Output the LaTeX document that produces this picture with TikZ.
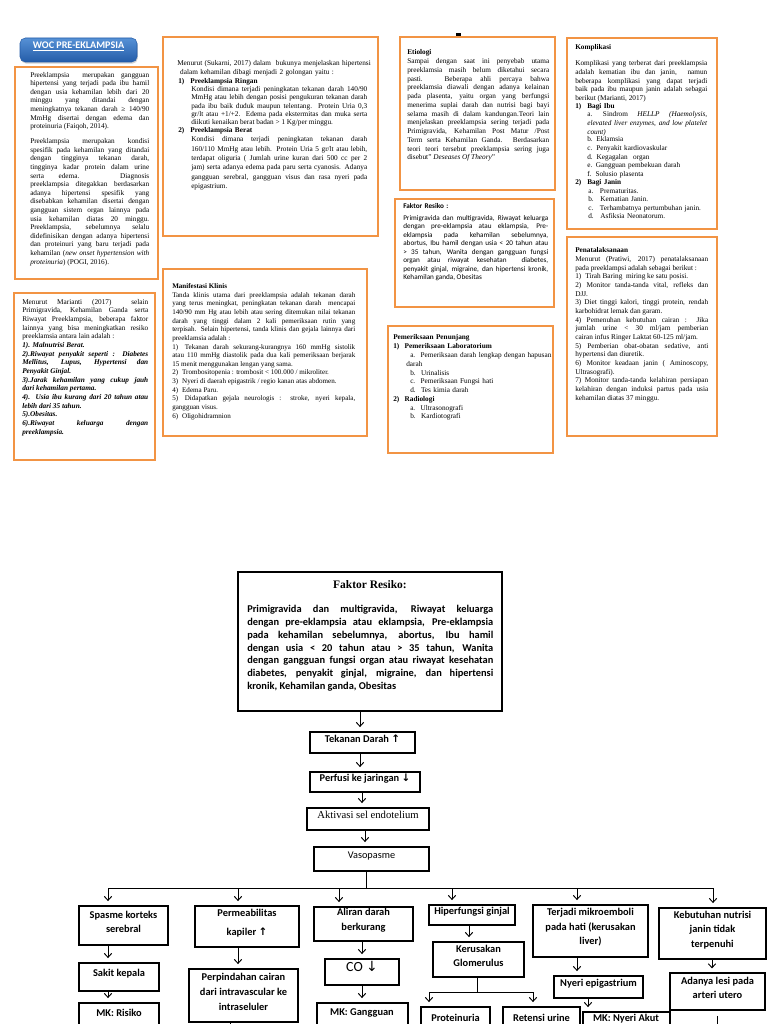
\documentclass[tikz,border=0pt]{standalone}
\usepackage{fontspec}
\setmainfont{Liberation Serif}
\newfontfamily\carl{Carlito}
\newfontfamily\dejav{DejaVu Sans}
\usetikzlibrary{fit,arrows.meta,shadows}
\definecolor{ora}{RGB}{242,148,68}
\definecolor{tbtop}{RGB}{86,145,214}
\definecolor{tbbot}{RGB}{36,92,168}
\setlength{\parindent}{0pt}
\hyphenpenalty=10000
\exhyphenpenalty=10000
\newcommand\myup{{\dejav ↑}}
\newcommand\mydown{{\dejav ↓}}
\begin{document}
\begin{tikzpicture}[x=0.75pt,y=-0.75pt,
  obox/.style={draw=ora, line width=1.5pt, inner sep=0pt},
  ptxt/.style 2 args={inner sep=0pt, anchor=north west, align=justify, font=\fontsize{#1}{#2}\selectfont},
  ltxt/.style 2 args={inner sep=0pt, anchor=north west, align=left, font=\fontsize{#1}{#2}\selectfont},
  fb/.style={draw, line width=1.4pt, inner sep=0pt, align=center, font=\carl\bfseries\fontsize{7.8}{11}\selectfont},
  btxt/.style={inner sep=0pt, font=\carl\bfseries\fontsize{7.8}{11}\selectfont},
  lin/.style={line width=0.7pt},
  arr/.style={lin, -{Straight Barb[length=3pt,width=5.5pt]}, shorten >=3pt},
  titlebox/.style={inner sep=0pt, rounded corners=4pt, draw=tbbot, top color=tbtop, bottom color=tbbot,
     drop shadow={opacity=0.35, shadow xshift=0.6pt, shadow yshift=-1.2pt},
     text=white, font=\carl\bfseries\fontsize{7.6}{9}\selectfont}
]
\fill[white] (0,0) rectangle (768,1024);
\useasboundingbox (0,0) rectangle (768,1024);
\clip (0,0) rectangle (768,1024);

% ---------- title ----------
\node[titlebox, fit={(20,38) (137,62)}] (title) {\underline{WOC PRE-EKLAMPSIA}};

% ---------- orange boxes ----------
\node[obox, fit={(15,67) (158,279)}] (def) {};
\node[obox, fit={(14,293) (155,460)}] (mar) {};
\node[obox, fit={(163,37) (378,236)}] (suk) {};
\node[obox, fit={(163,269) (367,436)}] (man) {};
\node[obox, fit={(400,37) (555,190)}] (eti) {};
\node[obox, fit={(395,199) (554,307)}] (fks) {};
\node[obox, fit={(388,326) (553,453)}] (pem) {};
\node[obox, fit={(567,38) (717,229)}] (kom) {};
\node[obox, fit={(567,237) (717,436)}] (pen) {};
\fill[black] (456,33.5) rectangle (461,36);

% ---------- definisi ----------
\node[ptxt={5.45}{6.45}, text width=89.25pt] (defT) at (30,71.7) {Preeklampsia \ merupakan gangguan\linebreak
hipertensi yang terjadi pada ibu hamil\linebreak
dengan usia kehamilan lebih dari 20\linebreak
minggu yang ditandai dengan\linebreak
meningkatnya tekanan darah ≥ 140/90\linebreak
MmHg disertai dengan edema dan\linebreak
proteinuria (Faiqoh, 2014).\par\vspace{4.8pt}
Preeklampsia merupakan kondisi\linebreak
spesifik pada kehamilan yang ditandai\linebreak
dengan tingginya tekanan darah,\linebreak
tingginya kadar protein dalam urine\linebreak
serta edema. Diagnosis\linebreak
preeklampsia ditegakkan berdasarkan\linebreak
adanya hipertensi spesifik yang\linebreak
disebabkan kehamilan disertai dengan\linebreak
gangguan sistem organ lainnya pada\linebreak
usia kehamilan diatas 20 minggu.\linebreak
Preeklampsia, sebelumnya selalu\linebreak
didefinisikan dengan adanya hipertensi\linebreak
dan proteinuri yang baru terjadi pada\linebreak
kehamilan (\textit{new onset hypertension with}\linebreak
\textit{proteinuria}) (POGI, 2016).};

% ---------- marianti ----------
\node[ptxt={5.45}{6.5}, text width=94.5pt] (marT) at (22,298.7) {Menurut Marianti (2017) \ selain\linebreak
Primigravida, Kehamilan Ganda serta\linebreak
Riwayat Preeklampsia, beberapa faktor\linebreak
lainnya yang bisa meningkatkan resiko\linebreak
preeklamsia antara lain adalah :\par
{\bfseries\itshape 1). Malnutrisi Berat.\par
2).Riwayat penyakit seperti : Diabetes\linebreak
Mellitus, Lupus, Hypertensi dan\linebreak
Penyakit Ginjal.\par
3).Jarak kehamilan yang cukup jauh\linebreak
dari kehamilan pertama.\par
4). Usia ibu kurang dari 20 tahun atau\linebreak
lebih dari 35 tahun.\par
5).Obesitas.\par
6).Riwayat keluarga dengan\linebreak
preeklampsia.\par}};

% ---------- sukarni ----------
\node[ltxt={5.45}{6.75}, text width=150pt] (sukI) at (177,59.7) {Menurut (Sukarni, 2017) dalam \ bukunya menjelaskan hipertensi\\
\hspace*{2.2pt}dalam kehamilan dibagi menjadi 2 golongan yaitu :};
\node[ltxt={5.45}{6.5}, text width=150pt] (sukH1) at (178,78.4) {\textbf{1)\hspace{4.5pt}Preeklampsia Ringan}};
\node[ptxt={5.45}{6.26}, text width=132pt] (sukP1) at (191,86) {Kondisi dimana terjadi peningkatan tekanan darah 140/90\linebreak
MmHg atau lebih dengan posisi pengukuran tekanan darah\linebreak
pada ibu baik duduk maupun telentang. Protein Uria 0,3\linebreak
gr/lt atau +1/+2. Edema pada ekstermitas dan muka serta\linebreak
diikuti kenaikan berat badan > 1 Kg/per minggu.};
\node[ltxt={5.45}{6.5}, text width=150pt] (sukH2) at (178,126.7) {\textbf{2)\hspace{4.5pt}Preeklampsia Berat}};
\node[ptxt={5.45}{7.0}, text width=132pt] (sukP2) at (191,136.6) {Kondisi dimana terjadi peningkatan tekanan darah\linebreak
160/110 MmHg atau lebih. Protein Uria 5 gr/lt atau lebih,\linebreak
terdapat oliguria ( Jumlah urine kuran dari 500 cc per 2\linebreak
jam) serta adanya edema pada paru serta cyanosis. Adanya\linebreak
gangguan serebral, gangguan visus dan rasa nyeri pada\linebreak
epigastrium.};

% ---------- manifestasi ----------
\node[ptxt={5.3}{6.47}, text width=137.25pt] (manT) at (172,283.45) {\textbf{Manifestasi Klinis}\par
Tanda klinis utama dari preeklampsia adalah tekanan darah\linebreak
yang terus meningkat, peningkatan tekanan darah \ mencapai\linebreak
140/90 mm Hg atau lebih atau sering ditemukan nilai tekanan\linebreak
darah yang tinggi dalam 2 kali pemeriksaan rutin yang\linebreak
terpisah. Selain hipertensi, tanda klinis dan gejala lainnya dari\linebreak
preeklamsia adalah :\par
1)\hspace{5pt}Tekanan darah sekurang-kurangnya 160 mmHg sistolik\linebreak
atau 110 mmHg diastolik pada dua kali pemeriksaan berjarak\linebreak
15 menit menggunakan lengan yang sama.\par
2)\hspace{3pt}Trombositopenia : trombosit < 100.000 / mikroliter.\par
3)\hspace{3pt}Nyeri di daerah epigastrik / regio kanan atas abdomen.\par
4)\hspace{3pt}Edema Paru.\par
5)\hspace{5pt}Didapatkan gejala neurologis : stroke, nyeri kepala,\linebreak
gangguan visus.\par
6)\hspace{3pt}Oligohidramnion};

% ---------- etiologi ----------
\node[ptxt={5.45}{6.56}, text width=106.5pt] (etiT) at (407,49.65) {\textbf{Etiologi}\par
Sampai dengan saat ini penyebab utama\linebreak
preeklamsia masih belum diketahui secara\linebreak
pasti. Beberapa ahli percaya bahwa\linebreak
preeklamsia diawali dengan adanya kelainan\linebreak
pada plasenta, yaitu organ yang berfungsi\linebreak
menerima suplai darah dan nutrisi bagi bayi\linebreak
selama masih di dalam kandungan.Teori lain\linebreak
menjelaskan preeklampsia sering terjadi pada\linebreak
Primigravida, Kehamilan Post Matur /Post\linebreak
Term serta Kehamilan Ganda. Berdasarkan\linebreak
teori teori tersebut preeklampsia sering juga\linebreak
disebut” \textit{Deseases Of Theory}”};

% ---------- faktor resiko (small) ----------
\node[ltxt={5.4}{6.4}, text width=108.75pt, font=\carl\bfseries\fontsize{5.4}{6.4}\selectfont] (fksH) at (403,203.6) {Faktor Resiko :};
\node[ptxt={5.4}{6.375}, text width=108.75pt, font=\carl\fontsize{5.4}{6.375}\selectfont] (fksT) at (403,214.9) {Primigravida dan multigravida, Riwayat keluarga\linebreak
dengan pre-eklampsia atau eklampsia, Pre-\linebreak
eklampsia pada kehamilan sebelumnya,\linebreak
abortus, Ibu hamil dengan usia < 20 tahun atau\linebreak
> 35 tahun, Wanita dengan gangguan fungsi\linebreak
organ atau riwayat kesehatan \ diabetes,\linebreak
penyakit ginjal, migraine, dan hipertensi kronik,\linebreak
Kehamilan ganda, Obesitas};

% ---------- pemeriksaan ----------
\node[ltxt={5.45}{6.58}, text width=135pt] (pemT) at (393,334.65) {\textbf{Pemeriksaan Penunjang}\\
\textbf{1)\hspace{4pt}Pemeriksaan Laboratorium}\\
\hspace*{12.75pt}a.\hspace{4pt}Pemeriksaan darah lengkap dengan hapusan\\
\hspace*{9.75pt}darah\\
\hspace*{12.75pt}b.\hspace{4pt}Urinalisis\\
\hspace*{12.75pt}c.\hspace{4pt}Pemeriksaan Fungsi hati\\
\hspace*{12.75pt}d.\hspace{4pt}Tes kimia darah\\
\textbf{2)\hspace{4pt}Radiologi}\\
\hspace*{12.75pt}a.\hspace{4pt}Ultrasonografi\\
\hspace*{12.75pt}b.\hspace{4pt}Kardiotografi};

% ---------- komplikasi ----------
\node[ltxt={5.45}{6.45}, text width=99pt] (komH) at (575,44.65) {\textbf{Komplikasi}};
\node[ptxt={5.45}{6.4}, text width=99pt] (komI) at (575,60.65) {Komplikasi yang terberat dari preeklampsia\linebreak
adalah kematian ibu dan janin, \ namun\linebreak
beberapa komplikasi yang dapat terjadi\linebreak
baik pada ibu maupun janin adalah sebagai\linebreak
berikut (Marianti, 2017)};
\node[ltxt={5.45}{6.45}, text width=99pt] (komB) at (575,103.65) {\textbf{1)\hspace{4.5pt}Bagi Ibu}};
\node[ptxt={5.45}{6.4}, text width=90pt] (komH2) at (587,111.65) {a.\hspace{8pt}Sindrom \textit{HELLP (Haemolysis,}\linebreak
\textit{elevated liver enzymes, and low platelet}\linebreak
\textit{count)}};
\node[ltxt={5.45}{6.42}, text width=99pt] (komL) at (575,136.65) {\hspace*{9pt}b. Eklamsia\\
\hspace*{9pt}c.\hspace{3pt}Penyakit kardiovaskular\\
\hspace*{9pt}d.\hspace{3pt}Kegagalan\hspace{4pt}organ\\
\hspace*{9pt}e. Gangguan pembekuan darah\\
\hspace*{9pt}f.\hspace{3pt}Solusio plasenta\\
\textbf{2)\hspace{4.5pt}Bagi Janin}\\
\hspace*{9.75pt}a.\hspace{5pt}Prematuritas.\\
\hspace*{9.75pt}b.\hspace{5pt}Kematian Janin.\\
\hspace*{9.75pt}c.\hspace{5pt}Terhambatnya pertumbuhan janin.\\
\hspace*{9.75pt}d.\hspace{5pt}Asfiksia Neonatorum.};

% ---------- penatalaksanaan ----------
\node[ptxt={5.45}{6.49}, text width=99.75pt] (penT) at (575,247.65) {\textbf{Penatalaksanaan}\par
Menurut (Pratiwi, 2017) penatalaksanaan\linebreak
pada preeklampsi adalah sebagai berikut :\par
1)\hspace{3pt}Tirah Baring \ miring ke satu posisi.\par
2)\hspace{4pt}Monitor tanda-tanda vital, refleks dan\linebreak
DJJ.\par
3) Diet tinggi kalori, tinggi protein, rendah\linebreak
karbohidrat lemak dan garam.\par
4) Pemenuhan kebutuhan cairan : Jika\linebreak
jumlah urine < 30 ml/jam pemberian\linebreak
cairan infus Ringer Laktat 60-125 ml/jam.\par
5) Pemberian obat-obatan sedative, anti\linebreak
hypertensi dan diuretik.\par
6)\hspace{4pt}Monitor keadaan janin ( Aminoscopy,\linebreak
Ultrasografi).\par
7) Monitor tanda-tanda kelahiran persiapan\linebreak
kelahiran dengan induksi partus pada usia\linebreak
kehamilan diatas 37 minggu.};

% ================= flowchart =================
\node[draw, line width=1.4pt, inner sep=0pt, fit={(238,572) (502,711)}] (faktor) {};
\node[inner sep=0pt, font=\bfseries\fontsize{8.6}{10}\selectfont] (faktorT) at (370,585) {Faktor Resiko:};
\node[inner sep=0pt, anchor=north west, align=justify, text width=184.5pt,
      font=\carl\bfseries\fontsize{7.8}{9.6}\selectfont] (faktorB) at (247,605.2) {Primigravida dan multigravida, Riwayat keluarga\linebreak
dengan pre-eklampsia atau eklampsia, Pre-eklampsia\linebreak
pada kehamilan sebelumnya, abortus, Ibu hamil\linebreak
dengan usia < 20 tahun atau > 35 tahun, Wanita\linebreak
dengan gangguan fungsi organ atau riwayat kesehatan\linebreak
diabetes, penyakit ginjal, migraine, dan hipertensi\linebreak
kronik, Kehamilan ganda, Obesitas};

\node[fb, fit={(310,732) (415,753)}] (tek) {Tekanan Darah \myup};
\node[fb, fit={(310,772) (420,792)}] (perf) {Perfusi ke jaringan \mydown};
\node[fb, fit={(307,808) (429,830)}, font=\fontsize{8}{10}\selectfont] (akt) {Aktivasi sel endotelium};
\node[fb, fit={(314,847) (429,871)}, font=\carl\fontsize{7.7}{10}\selectfont] (vaso) {Vasopasme};

\node[fb, fit={(79,906) (168,945)}] (spasme) {Spasme korteks\\serebral};
\node[fb, fit={(195,906) (299,947)}] (perm) {Permeabilitas\\[3pt]kapiler \myup};
\node[fb, fit={(314,907) (413,941)}] (aliran) {Aliran darah\\berkurang};
\node[fb, fit={(429,905) (515,925)}] (hiper) {Hiperfungsi ginjal};
\node[fb, fit={(533,905) (648,957)}] (terjadi) {Terjadi mikroemboli\\pada hati (kerusakan\\liver)};
\node[fb, fit={(659,908) (766,959)}] (kebut) {Kebutuhan nutrisi\\janin tidak\\terpenuhi};

\node[fb, fit={(79,963) (159,991)}] (sakit) {Sakit kepala};
\node[fb, fit={(79,1003) (159,1045)}] (mkr) {};
\node[btxt] (mkrT) at (119,1013) {MK: Risiko};
\node[fb, fit={(189,969) (298,1022)}] (perp) {Perpindahan cairan\\dari intravascular ke\\intraseluler};
\node[fb, fit={(325,959) (399,985)}, font=\carl\fontsize{10.5}{12}\selectfont] (co) {CO \mydown};
\node[fb, fit={(317,1003) (408,1045)}] (mkg) {};
\node[btxt] (mkgT) at (362,1013) {MK: Gangguan};
\node[fb, fit={(433,942) (524,977)}] (kerus) {Kerusakan\\Glomerulus};
\node[fb, fit={(421,1007) (490,1045)}] (prot) {};
\node[btxt] (protT) at (455.5,1017.5) {Proteinuria};
\node[fb, fit={(503,1007) (580,1045)}] (ret) {};
\node[btxt] (retT) at (541.5,1017.5) {Retensi urine};
\node[fb, fit={(554,976) (643,998)}] (nyeri) {Nyeri epigastrium};
\node[fb, fit={(583,1012) (670,1045)}] (mkn) {};
\node[btxt] (mknT) at (626,1018.5) {MK: Nyeri Akut};
\node[fb, line width=0.9pt, fit={(670,973) (765,1010)}] (adanya) {Adanya lesi pada\\arteri utero};

% ---------- connectors ----------
\coordinate (xA) at (360,0);
\coordinate (xB) at (362,0);
\coordinate (xC) at (365,0);
\draw[arr] (faktor.south -| xA) -- (tek.north -| xA);
\draw[arr] (tek.south -| xA) -- (perf.north -| xA);
\draw[arr] (perf.south -| xB) -- (akt.north -| xB);
\draw[arr] (akt.south -| xC) -- (vaso.north -| xC);

\coordinate (bm) at (366,888);
\coordinate (b1) at (108,888);
\coordinate (b2) at (238,888);
\coordinate (b3) at (339,888);
\coordinate (b4) at (452,888);
\coordinate (b5) at (577,888);
\coordinate (b6) at (713,888);
\draw[lin] (vaso.south -| bm) -- (bm);
\draw[lin] (b1) -- (b6);
\draw[arr] (b1) -- (spasme.north -| b1);
\draw[arr] (b2) -- (perm.north -| b2);
\draw[arr] (b3) -- (aliran.north -| b3);
\draw[arr] (b4) -- (hiper.north -| b4);
\draw[arr] (b5) -- (terjadi.north -| b5);
\draw[arr] (b6) -- (kebut.north -| b6);

\coordinate (x108) at (108,0);
\coordinate (x238) at (238,0);
\coordinate (x469) at (469,0);
\coordinate (x577) at (577,0);
\coordinate (x588) at (588,0);
\coordinate (x712) at (712,0);
\draw[arr] (spasme.south -| x108) -- (sakit.north -| x108);
\draw[arr] (sakit.south -| x108) -- (mkr.north -| x108);
\draw[arr] (perm.south -| x238) -- (perp.north -| x238);
\coordinate (pe) at (230,1045);
\draw[lin] (perp.south -| pe) -- (pe);
\draw[arr] (aliran.south -| xB) -- (co.north -| xB);
\draw[arr] (co.south -| xB) -- (mkg.north -| xB);
\draw[arr] (hiper.south -| x469) -- (kerus.north -| x469);
\coordinate (k1) at (477,992);
\coordinate (kl) at (429,992);
\coordinate (kr) at (533,992);
\draw[lin] (kerus.south -| k1) -- (k1);
\draw[lin] (kl) -- (kr);
\draw[arr] (kl) -- (prot.north -| kl);
\draw[arr] (kr) -- (ret.north -| kr);
\draw[arr] (terjadi.south -| x577) -- (nyeri.north -| x577);
\draw[arr] (nyeri.south -| x588) -- (mkn.north -| x588);
\draw[arr] (kebut.south -| x712) -- (adanya.north -| x712);
\coordinate (ad) at (717,1045);
\draw[lin, shorten <=4pt] (adanya.south -| ad) -- (ad);
\end{tikzpicture}
\end{document}
